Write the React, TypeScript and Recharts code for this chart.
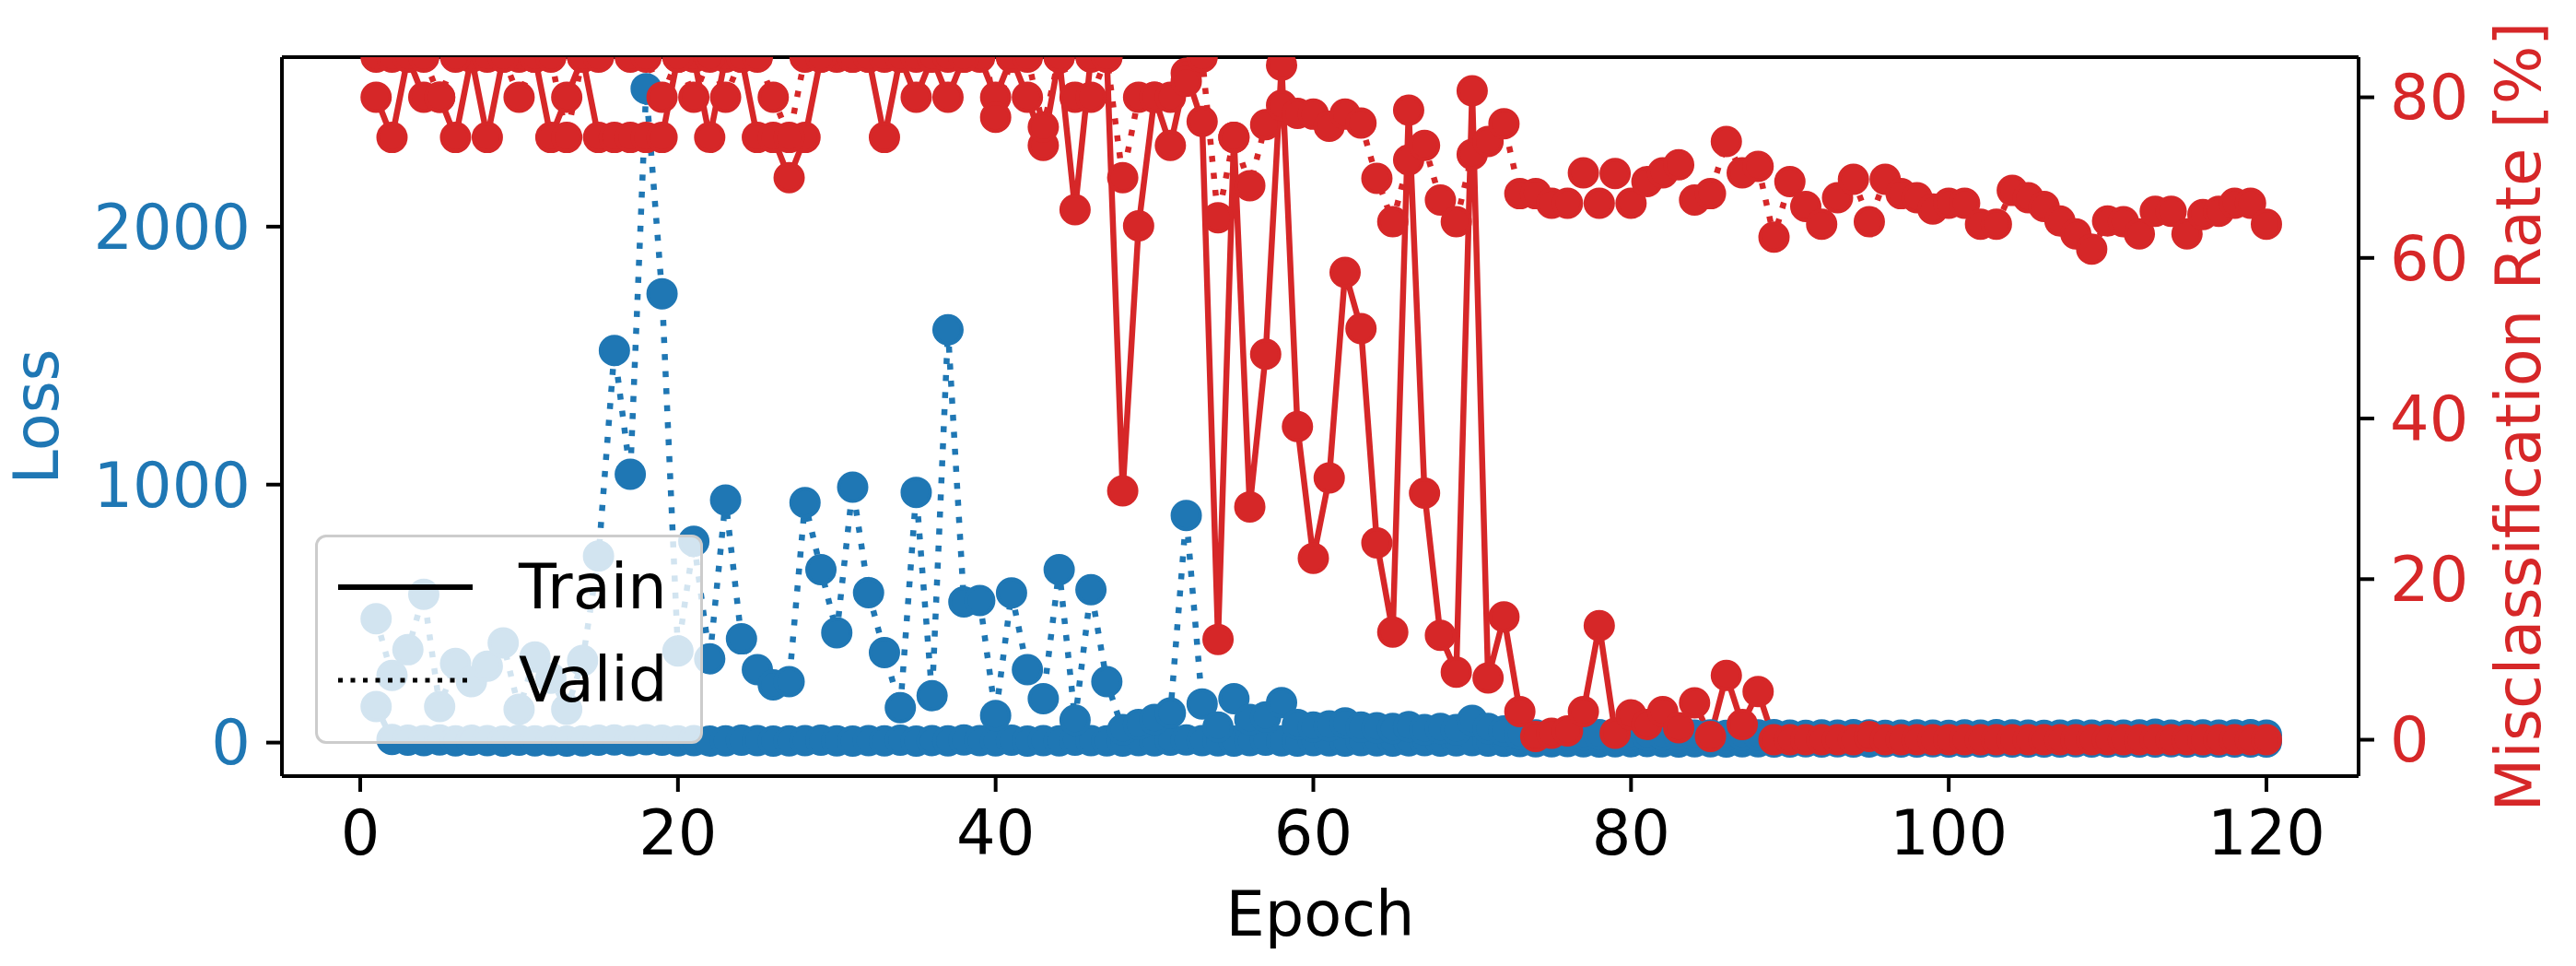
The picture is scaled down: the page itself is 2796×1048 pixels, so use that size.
import React from 'react';
import { LineChart, Line, XAxis, YAxis, Legend, ReferenceLine } from 'recharts';

const epochs = [
  1, 2, 3, 4, 5, 6, 7, 8, 9, 10, 11, 12, 13, 14, 15, 16, 17, 18, 19, 20,
  21, 22, 23, 24, 25, 26, 27, 28, 29, 30, 31, 32, 33, 34, 35, 36, 37, 38, 39, 40,
  41, 42, 43, 44, 45, 46, 47, 48, 49, 50, 51, 52, 53, 54, 55, 56, 57, 58, 59, 60,
  61, 62, 63, 64, 65, 66, 67, 68, 69, 70, 71, 72, 73, 74, 75, 76, 77, 78, 79, 80,
  81, 82, 83, 84, 85, 86, 87, 88, 89, 90, 91, 92, 93, 94, 95, 96, 97, 98, 99, 100,
  101, 102, 103, 104, 105, 106, 107, 108, 109, 110, 111, 112, 113, 114, 115, 116, 117, 118, 119, 120,
];

const trainLoss = [
  140, 12, 9, 8, 10, 7, 9, 8, 6, 9, 7, 8, 6, 7, 9, 10, 8, 11, 9, 7,
  8, 6, 7, 9, 8, 6, 7, 8, 9, 7, 6, 8, 7, 9, 6, 8, 7, 10, 8, 7,
  9, 6, 8, 7, 9, 8, 7, 6, 8, 7, 9, 10, 8, 7, 6, 8, 9, 7, 6, 8,
  7, 6, 8, 7, 6, 7, 8, 6, 7, 8, 6, 5, 4, 3, 3, 4, 3, 2, 3, 3,
  4, 3, 2, 3, 3, 2, 3, 3, 2, 2, 3, 2, 3, 2, 2, 3, 2, 2, 3, 2,
  2, 2, 3, 2, 2, 2, 2, 3, 2, 2, 2, 2, 2, 3, 2, 2, 2, 2, 2, 2,
];

const validLoss = [
  480, 260, 360, 575, 140, 307, 236, 296, 386, 129,
  332, 250, 129, 318, 723, 1520, 1040, 2535, 1740, 355,
  780, 325, 940, 402, 283, 224, 236, 930, 670, 426,
  990, 581, 349, 135, 970, 182, 1600, 545, 551, 105,
  580, 283, 170, 670, 87, 593, 236, 50, 70, 90,
  115, 880, 150, 60, 170, 90, 100, 155, 70, 60,
  65, 76, 60, 58, 55, 62, 50, 55, 50, 86,
  55, 45, 32, 30, 31, 29, 30, 31, 29, 30,
  28, 30, 31, 29, 30, 28, 29, 30, 31, 29,
  28, 30, 29, 31, 30, 28, 29, 30, 29, 28,
  30, 29, 31, 30, 29, 28, 29, 30, 29, 28,
  29, 30, 33, 29, 28, 30, 29, 30, 31, 29,
];

const trainErr = [
  80, 75, 85, 80, 80, 75, 85, 75, 85, 85,
  85, 75, 80, 85, 75, 75, 75, 75, 75, 85,
  85, 75, 85, 85, 75, 75, 70, 75, 85, 85,
  85, 85, 75, 85, 80, 85, 80, 85, 85, 80,
  85, 80, 74, 85, 66, 85, 85, 31, 64, 80,
  74, 83, 77, 12.5, 75, 29, 48, 84, 39, 22.6,
  32.6, 58.2, 51.2, 24.5, 13.4, 78.4, 30.7, 13, 8.4, 80.8,
  7.7, 15.3, 3.5, 0.4, 0.8, 1.1, 3.5, 14.2, 0.8, 3.1,
  1.9, 3.5, 1.5, 4.6, 0.4, 8, 1.9, 6, 0, 0,
  0, 0, 0, 0, 0.4, 0, 0, 0, 0, 0,
  0, 0, 0, 0, 0, 0, 0, 0, 0, 0,
  0, 0, 0, 0, 0, 0, 0, 0, 0, 0,
];

const validErr = [
  85, 85, 85, 85, 80, 85, 90, 85, 85, 80,
  85, 85, 75, 85, 85, 90, 85, 85, 80, 85,
  80, 85, 80, 85, 85, 80, 75, 85, 85, 90,
  85, 85, 85, 85, 85, 85, 85, 85, 90, 77.5,
  85, 85, 76.3, 85, 80, 80, 85, 70, 80, 80,
  80, 82, 85, 65, 75, 69, 76.6, 79, 78, 77.9,
  76.4, 77.9, 76.8, 69.9, 64.5, 72.2, 74, 67.2, 64.5, 72.9,
  74.5, 76.7, 68, 68, 66.8, 66.8, 70.6, 66.8, 70.5, 66.8,
  69.5, 70.6, 71.6, 67.2, 68, 74.5, 70.6, 71.4, 62.6, 69.5,
  66.4, 64.2, 67.5, 69.8, 64.5, 69.8, 68, 67.5, 66.1, 66.8,
  66.8, 64.2, 64.2, 68.4, 67.5, 66.4, 64.6, 63, 61.1, 64.6,
  64.5, 63, 65.8, 65.8, 63, 65.4, 65.8, 66.8, 66.8, 64.2,
];

const xTicks = [0, 20, 40, 60, 80, 100, 120];
const lossTicks = [0, 1000, 2000];
const errTicks = [0, 20, 40, 60, 80];
const legendLabels = ['Train', 'Valid'];
const axisTitles = { x: 'Epoch', loss: 'Loss', err: 'Misclassification Rate [%]' };

const xDomain = [-4.93, 125.8];
const lossDomain = [-130, 2657];
const errDomain = [-4.53, 85.0];

const BLUE = '#1f77b4';
const RED = '#d62728';
const FONT = "'DejaVu Sans', sans-serif";
const FS = 67;

const data = epochs.map((epoch, i) => ({
  epoch,
  trainLoss: trainLoss[i],
  validLoss: validLoss[i],
  trainErr: trainErr[i],
  validErr: validErr[i],
}));

const renderLegend = () => (
  <div
    style={{
      width: 421,
      height: 227,
      boxSizing: 'border-box',
      border: '3px solid #cccccc',
      borderRadius: 12,
      background: 'rgba(255,255,255,0.8)',
      position: 'relative',
    }}
  >
    <svg width={421} height={227} style={{ position: 'absolute', left: -3, top: -3, overflow: 'visible' }}>
      <line x1={25} x2={171} y1={57} y2={57} stroke="#000" strokeWidth={6} />
      <text x={221} y={80} fontSize={FS} fontFamily={FONT} fill="#000">
        {legendLabels[0]}
      </text>
      <line x1={25} x2={171} y1={158} y2={158} stroke="#000" strokeWidth={5} strokeDasharray="5 8.5" />
      <text x={221} y={181} fontSize={FS} fontFamily={FONT} fill="#000">
        {legendLabels[1]}
      </text>
    </svg>
  </div>
);

const XLabel = (props: any) => {
  const vb = props.viewBox || { x: 306, y: 842, width: 2254, height: 206 };
  return (
    <text x={vb.x + vb.width / 2} y={vb.y + 173} textAnchor="middle" fontSize={FS} fontFamily={FONT} fill="#000">
      {axisTitles.x}
    </text>
  );
};

const LossLabel = (props: any) => {
  const vb = props.viewBox || { x: 0, y: 62, width: 306, height: 780 };
  const x = vb.x + 63;
  const y = vb.y + vb.height / 2;
  return (
    <text x={x} y={y} transform={`rotate(-90, ${x}, ${y})`} textAnchor="middle" fontSize={FS} fontFamily={FONT} fill={BLUE}>
      {axisTitles.loss}
    </text>
  );
};

const ErrLabel = (props: any) => {
  const vb = props.viewBox || { x: 2560, y: 62, width: 236, height: 780 };
  const x = vb.x + 197;
  const y = vb.y + vb.height / 2;
  return (
    <text x={x} y={y} transform={`rotate(-90, ${x}, ${y})`} textAnchor="middle" fontSize={FS} fontFamily={FONT} fill={RED}>
      {axisTitles.err}
    </text>
  );
};

const lineW = 6.5;
const dotStyle = (c: string) => ({ r: 15, fill: c, stroke: c, strokeWidth: 4, strokeDasharray: 'none' });

export default function App() {
  return (
    <div style={{ position: 'absolute', left: 0, top: 0, width: 2796, height: 1048, background: '#fff', fontFamily: FONT }}>
      <LineChart width={2796} height={1048} data={data} margin={{ top: 62, right: 0, bottom: 0, left: 0 }}>
        <XAxis
          dataKey="epoch"
          type="number"
          domain={xDomain}
          allowDataOverflow
          ticks={xTicks}
          interval={0}
          height={206}
          tickSize={17}
          tickMargin={20}
          tick={{ fill: '#000', fontSize: FS, fontFamily: FONT }}
          tickLine={{ stroke: '#000', strokeWidth: 4 }}
          axisLine={{ stroke: '#000', strokeWidth: 4 }}
          label={<XLabel />}
        />
        <YAxis
          yAxisId="loss"
          orientation="left"
          type="number"
          domain={lossDomain}
          allowDataOverflow
          ticks={lossTicks}
          interval={0}
          width={306}
          tickSize={17}
          tickMargin={17}
          tick={{ fill: BLUE, fontSize: FS, fontFamily: FONT }}
          tickLine={{ stroke: '#000', strokeWidth: 4 }}
          axisLine={{ stroke: '#000', strokeWidth: 4 }}
          label={<LossLabel />}
        />
        <YAxis
          yAxisId="err"
          orientation="right"
          type="number"
          domain={errDomain}
          allowDataOverflow
          ticks={errTicks}
          interval={0}
          width={236}
          tickSize={17}
          tickMargin={17}
          tick={{ fill: RED, fontSize: FS, fontFamily: FONT }}
          tickLine={{ stroke: '#000', strokeWidth: 4 }}
          axisLine={{ stroke: '#000', strokeWidth: 4 }}
          label={<ErrLabel />}
        />
        <ReferenceLine yAxisId="loss" y={lossDomain[1]} stroke="#000" strokeWidth={4} />
        <Line
          yAxisId="loss"
          dataKey="trainLoss"
          type="linear"
          stroke={BLUE}
          strokeWidth={lineW}
          strokeLinejoin="round"
          dot={dotStyle(BLUE)}
          activeDot={false}
          isAnimationActive={false}
        />
        <Line
          yAxisId="loss"
          dataKey="validLoss"
          type="linear"
          stroke={BLUE}
          strokeWidth={lineW}
          strokeDasharray="6.5 12"
          dot={dotStyle(BLUE)}
          activeDot={false}
          isAnimationActive={false}
        />
        <Line
          yAxisId="err"
          dataKey="trainErr"
          type="linear"
          stroke={RED}
          strokeWidth={lineW}
          strokeLinejoin="round"
          dot={dotStyle(RED)}
          activeDot={false}
          isAnimationActive={false}
        />
        <Line
          yAxisId="err"
          dataKey="validErr"
          type="linear"
          stroke={RED}
          strokeWidth={lineW}
          strokeDasharray="6.5 12"
          dot={dotStyle(RED)}
          activeDot={false}
          isAnimationActive={false}
        />
        <Legend
          layout="horizontal"
          verticalAlign="middle"
          align="center"
          content={renderLegend}
          wrapperStyle={{ position: 'absolute', left: 342, top: 580, width: 421, height: 227, margin: 0, padding: 0 }}
        />
      </LineChart>
    </div>
  );
}
